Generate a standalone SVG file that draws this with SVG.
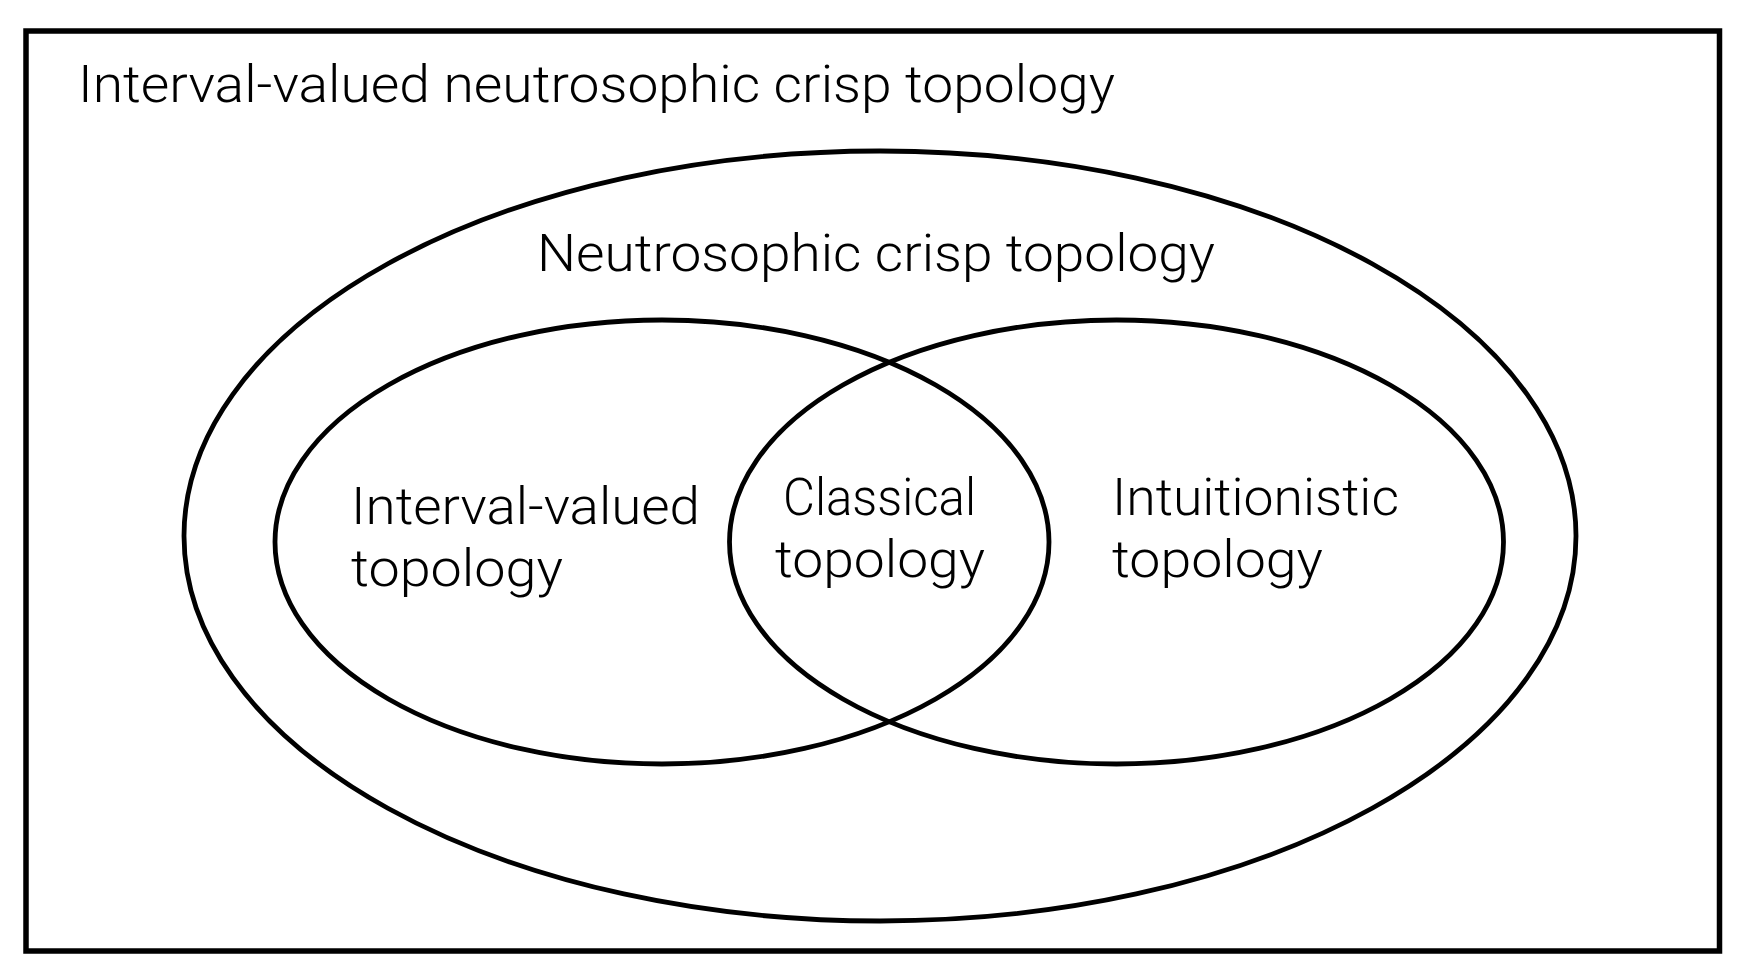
<svg xmlns="http://www.w3.org/2000/svg" width="1745" height="979" viewBox="0 0 1745 979">
<style>
.lbl{font-family:Roboto,"Noto Sans","DejaVu Sans",sans-serif;font-size:52.5px;font-weight:300;fill:#000}
.sh{fill:none;stroke:#000;stroke-width:4.8}
</style>
<rect x="0" y="0" width="1745" height="979" fill="#fff"/>
<g id="ivnct">
<rect x="26" y="31" width="1693.5" height="920" fill="none" stroke="#000" stroke-width="5.5"/>
<text class="lbl" x="78" y="102" textLength="1037" lengthAdjust="spacingAndGlyphs">Interval-valued neutrosophic crisp topology</text>
</g>
<g id="nct">
<ellipse class="sh" cx="880" cy="536" rx="696" ry="385"/>
<text class="lbl" x="537" y="271" textLength="678" lengthAdjust="spacingAndGlyphs">Neutrosophic crisp topology</text>
</g>
<g id="ivt">
<ellipse class="sh" cx="662" cy="542" rx="387" ry="222"/>
<text class="lbl"><tspan x="351" y="524" textLength="349" lengthAdjust="spacingAndGlyphs">Interval-valued</tspan><tspan x="351" y="586" textLength="212" lengthAdjust="spacingAndGlyphs">topology</tspan></text>
</g>
<g id="it">
<ellipse class="sh" cx="1116.5" cy="542" rx="387" ry="222"/>
<text class="lbl"><tspan x="1112" y="515" textLength="287" lengthAdjust="spacingAndGlyphs">Intuitionistic</tspan><tspan x="1112" y="577" textLength="211" lengthAdjust="spacingAndGlyphs">topology</tspan></text>
</g>
<g id="ct">
<text class="lbl"><tspan x="783" y="515" textLength="193" lengthAdjust="spacingAndGlyphs">Classical</tspan><tspan x="775" y="577" textLength="210" lengthAdjust="spacingAndGlyphs">topology</tspan></text>
</g>
<g id="connectors"/>
</svg>
